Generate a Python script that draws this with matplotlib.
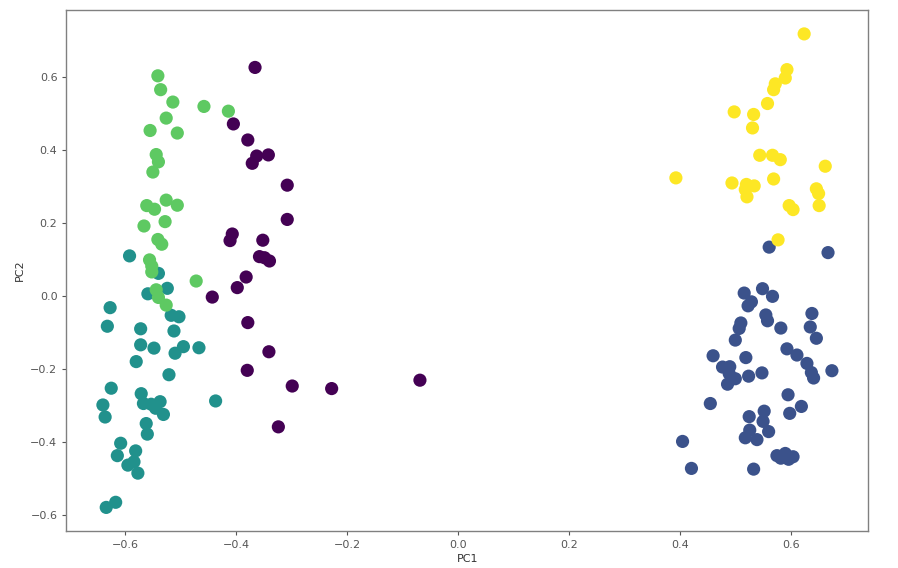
import numpy as np
import matplotlib.pyplot as plt

# ------------------------------------------------------------
# PCA scores per cluster (PC1, PC2)
# ------------------------------------------------------------
cluster0_pc1 = [-0.366, -0.405, -0.379, -0.363, -0.371, -0.342, -0.308, -0.308,
                -0.407, -0.411, -0.352, -0.358, -0.349, -0.340, -0.382, -0.398,
                -0.443, -0.379, -0.341, -0.380, -0.299, -0.228, -0.069, -0.324]
cluster0_pc2 = [0.627, 0.472, 0.428, 0.384, 0.364, 0.387, 0.304, 0.210,
                0.170, 0.152, 0.153, 0.108, 0.105, 0.096, 0.052, 0.023,
                -0.003, -0.073, -0.153, -0.204, -0.247, -0.254, -0.231, -0.359]

cluster1_pc1 = [0.560, 0.666, 0.515, 0.548, 0.566, 0.528, 0.522, 0.554, 0.557, 0.509,
                0.506, 0.637, 0.634, 0.581, 0.645, 0.499, 0.592, 0.610, 0.459, 0.518,
                0.628, 0.476, 0.489, 0.636, 0.640, 0.673, 0.488, 0.499, 0.485, 0.523,
                0.547, 0.594, 0.618, 0.597, 0.454, 0.551, 0.524, 0.549, 0.559, 0.525,
                0.517, 0.538, 0.404, 0.574, 0.581, 0.589, 0.595, 0.603, 0.420, 0.532]
cluster1_pc2 = [0.134, 0.119, 0.008, 0.020, -0.001, -0.016, -0.027, -0.052, -0.068, -0.074,
                -0.089, -0.048, -0.085, -0.088, -0.116, -0.121, -0.145, -0.162, -0.164, -0.169,
                -0.185, -0.195, -0.194, -0.210, -0.225, -0.205, -0.213, -0.227, -0.242, -0.220,
                -0.211, -0.271, -0.303, -0.322, -0.295, -0.316, -0.331, -0.344, -0.372, -0.368,
                -0.389, -0.394, -0.399, -0.438, -0.445, -0.432, -0.448, -0.441, -0.473, -0.475]

cluster2_pc1 = [-0.592, -0.540, -0.524, -0.559, -0.627, -0.632, -0.517, -0.503, -0.512, -0.572,
                -0.572, -0.548, -0.495, -0.510, -0.467, -0.580, -0.521, -0.625, -0.571, -0.640,
                -0.636, -0.567, -0.553, -0.537, -0.545, -0.531, -0.437, -0.562, -0.560, -0.608,
                -0.614, -0.581, -0.595, -0.584, -0.577, -0.617, -0.634]
cluster2_pc2 = [0.110, 0.062, 0.021, 0.006, -0.032, -0.083, -0.053, -0.057, -0.096, -0.090,
                -0.134, -0.143, -0.139, -0.157, -0.142, -0.180, -0.216, -0.253, -0.268, -0.299,
                -0.332, -0.295, -0.297, -0.290, -0.308, -0.325, -0.288, -0.350, -0.379, -0.404,
                -0.438, -0.425, -0.464, -0.455, -0.486, -0.566, -0.580]

cluster3_pc1 = [-0.541, -0.536, -0.514, -0.526, -0.555, -0.506, -0.458, -0.414, -0.544,
                -0.540, -0.550, -0.561, -0.547, -0.526, -0.506, -0.528, -0.566, -0.541,
                -0.534, -0.556, -0.552, -0.552, -0.472, -0.544, -0.540, -0.526]
cluster3_pc2 = [0.604, 0.566, 0.532, 0.488, 0.454, 0.447, 0.520, 0.507, 0.388,
                0.368, 0.340, 0.248, 0.238, 0.263, 0.249, 0.204, 0.192, 0.155,
                0.142, 0.099, 0.082, 0.066, 0.041, 0.017, -0.004, -0.025]

cluster4_pc1 = [0.623, 0.592, 0.589, 0.571, 0.568, 0.557, 0.497, 0.532, 0.530, 0.543,
                0.566, 0.580, 0.661, 0.392, 0.568, 0.493, 0.519, 0.533, 0.517, 0.520,
                0.645, 0.649, 0.596, 0.603, 0.650, 0.576]
cluster4_pc2 = [0.719, 0.621, 0.598, 0.582, 0.566, 0.528, 0.505, 0.498, 0.461, 0.386,
                0.386, 0.374, 0.356, 0.324, 0.321, 0.310, 0.306, 0.302, 0.292, 0.272,
                0.294, 0.281, 0.248, 0.237, 0.248, 0.154]

# drawing order (later clusters are painted on top)
clusters = [
    (1, cluster1_pc1, cluster1_pc2),
    (4, cluster4_pc1, cluster4_pc2),
    (2, cluster2_pc1, cluster2_pc2),
    (3, cluster3_pc1, cluster3_pc2),
    (0, cluster0_pc1, cluster0_pc2),
]

pc1 = np.concatenate([np.array(x) for _, x, _ in clusters])
pc2 = np.concatenate([np.array(y) for _, _, y in clusters])
labels = np.concatenate([np.full(len(x), k) for k, x, _ in clusters])

fig = plt.figure(figsize=(8.98, 5.68), dpi=100)
ax = fig.add_axes([0.074, 0.065, 0.893, 0.917])

ax.scatter(pc1, pc2, c=labels, cmap="viridis", vmin=0, vmax=4, s=90, linewidths=0)

ax.set_xticks([-0.6, -0.4, -0.2, 0.0, 0.2, 0.4, 0.6])
ax.set_yticks([-0.6, -0.4, -0.2, 0.0, 0.2, 0.4, 0.6])
ax.set_xlabel("PC1", fontsize=8, color="#333333", labelpad=3)
ax.set_ylabel("PC2", fontsize=8, color="#333333", labelpad=4)
ax.tick_params(labelsize=8, colors="#555555", length=3, width=0.8)
for side in ax.spines.values():
    side.set_color("#808080")
    side.set_linewidth(1.0)

fig.savefig("out.png", dpi=100)
